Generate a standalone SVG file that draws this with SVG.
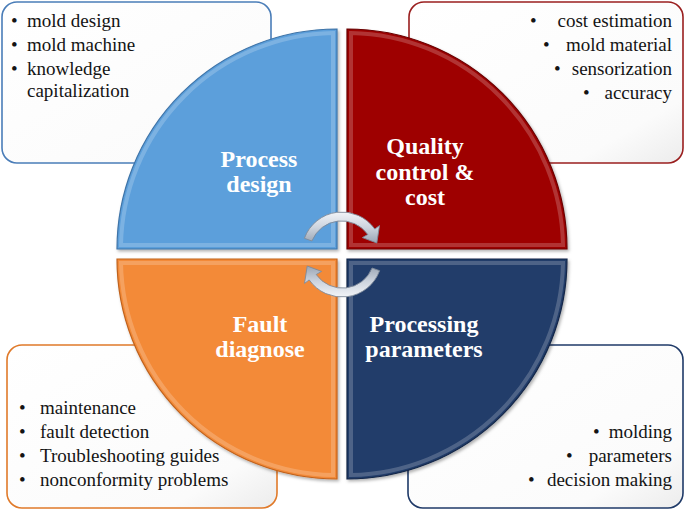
<svg xmlns="http://www.w3.org/2000/svg" width="685" height="511" viewBox="0 0 685 511">
<defs>
<style>
.box{stroke-width:1.6}
.bt{font-family:'Liberation Serif','Times New Roman',serif;font-size:19px;fill:#141414}
.ql{font-family:'Liberation Serif','Times New Roman',serif;font-size:24px;font-weight:bold;fill:#ffffff;text-anchor:middle}
.bevel{fill:none;stroke:#ffffff;stroke-opacity:0.2;stroke-width:4}
.edge{stroke-width:1.2}
.arr{fill:url(#ag);stroke:#7f8a9a;stroke-width:0.9}
</style>
<linearGradient id="bg" x1="0" y1="0" x2="1" y2="1">
<stop offset="0" stop-color="#ffffff"/>
<stop offset="0.8" stop-color="#fbfbfb"/>
<stop offset="1" stop-color="#ececec"/>
</linearGradient>
<linearGradient id="ag" x1="0" y1="0" x2="0" y2="1">
<stop offset="0" stop-color="#f2f4f8"/>
<stop offset="0.5" stop-color="#cdd4de"/>
<stop offset="1" stop-color="#9aa5b4"/>
</linearGradient>
<filter id="sh" x="-10%" y="-10%" width="120%" height="120%">
<feDropShadow dx="1.5" dy="2" stdDeviation="1.5" flood-color="#000" flood-opacity="0.3"/>
</filter>
</defs>
<rect width="685" height="511" fill="#ffffff"/>

<g id="box-process-design">
<rect class="box" x="2" y="2" width="269" height="161" rx="15" fill="url(#bg)" stroke="#4a7db8"/>
<text class="bt" x="11" y="27">•</text><text class="bt" x="27" y="27">mold design</text>
<text class="bt" x="11" y="51">•</text><text class="bt" x="27" y="51">mold machine</text>
<text class="bt" x="11" y="75">•</text><text class="bt" x="27" y="75">knowledge</text>
<text class="bt" x="27" y="97">capitalization</text>
</g>
<g id="box-quality">
<rect class="box" x="409" y="2" width="274" height="161" rx="15" fill="url(#bg)" stroke="#9a1f1f"/>
<text class="bt" x="530" y="27">•</text><text class="bt" x="672" y="27" text-anchor="end">cost estimation</text>
<text class="bt" x="543" y="51">•</text><text class="bt" x="672" y="51" text-anchor="end">mold material</text>
<text class="bt" x="554" y="75">•</text><text class="bt" x="672" y="75" text-anchor="end">sensorization</text>
<text class="bt" x="583" y="99">•</text><text class="bt" x="672" y="99" text-anchor="end">accuracy</text>
</g>
<g id="box-fault">
<rect class="box" x="7" y="345" width="270" height="163" rx="15" fill="url(#bg)" stroke="#e07a2a"/>
<text class="bt" x="19" y="414">•</text><text class="bt" x="40" y="414">maintenance</text>
<text class="bt" x="19" y="438">•</text><text class="bt" x="40" y="438">fault detection</text>
<text class="bt" x="19" y="462">•</text><text class="bt" x="40" y="462">Troubleshooting guides</text>
<text class="bt" x="19" y="486">•</text><text class="bt" x="40" y="486">nonconformity problems</text>
</g>
<g id="box-processing">
<rect class="box" x="408" y="345" width="275" height="163" rx="15" fill="url(#bg)" stroke="#1f3a68"/>
<text class="bt" x="593" y="438">•</text><text class="bt" x="672" y="438" text-anchor="end">molding</text>
<text class="bt" x="566" y="462">•</text><text class="bt" x="672" y="462" text-anchor="end">parameters</text>
<text class="bt" x="528" y="486">•</text><text class="bt" x="672" y="486" text-anchor="end">decision making</text>
</g>

<g id="process-design">
<path class="edge" d="M337,249 L117,249 A220,220 0 0 1 337,29 Z" fill="#5b9fdb" stroke="#3f74a8" filter="url(#sh)"/>
<path class="bevel" d="M333,245 L121,245 A216,216 0 0 1 333,33 Z"/>
<text class="ql" x="259" y="167">Process</text>
<text class="ql" x="259" y="192">design</text>
</g>
<g id="quality-control">
<path class="edge" d="M347,249 L347,29 A220,220 0 0 1 567,249 Z" fill="#9e0000" stroke="#6a0000" filter="url(#sh)"/>
<path class="bevel" d="M351,245 L351,33 A216,216 0 0 1 563,245 Z"/>
<text class="ql" x="425" y="154">Quality</text>
<text class="ql" x="425" y="180">control &amp;</text>
<text class="ql" x="425" y="205">cost</text>
</g>
<g id="fault-diagnose">
<path class="edge" d="M337,259 L337,479 A220,220 0 0 1 117,259 Z" fill="#f38a38" stroke="#c0621c" filter="url(#sh)"/>
<path class="bevel" d="M333,263 L333,475 A216,216 0 0 1 121,263 Z"/>
<text class="ql" x="260" y="332">Fault</text>
<text class="ql" x="260" y="357">diagnose</text>
</g>
<g id="processing-parameters">
<path class="edge" d="M347,259 L567,259 A220,220 0 0 1 347,479 Z" fill="#213c6b" stroke="#132647" filter="url(#sh)"/>
<path class="bevel" d="M351,263 L563,263 A216,216 0 0 1 351,475 Z"/>
<text class="ql" x="424" y="332">Processing</text>
<text class="ql" x="424" y="357">parameters</text>
</g>

<g id="connectors">
<path id="arrow-top" class="arr" d="M304.4,238.3 A40,40 0 0 1 374.8,229.1 L379.5,225.6 L376.8,243 L362.4,237.6 L367.8,234.5 A32,32 0 0 0 311.9,241 Z"/>
<path id="arrow-bottom" class="arr" transform="rotate(180 342 254.5)" d="M304.4,238.3 A40,40 0 0 1 374.8,229.1 L379.5,225.6 L376.8,243 L362.4,237.6 L367.8,234.5 A32,32 0 0 0 311.9,241 Z"/>
</g>
</svg>
